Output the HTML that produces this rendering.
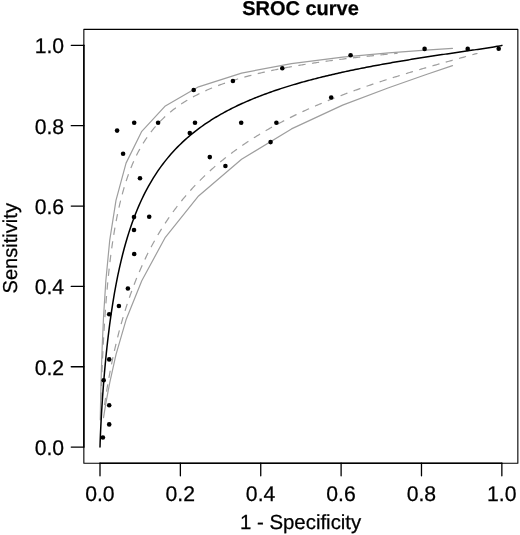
<!DOCTYPE html>
<html><head><meta charset="utf-8"><title>SROC curve</title>
<style>html,body{margin:0;padding:0;background:#fff;}body{width:520px;height:535px;position:relative;overflow:hidden;font-family:"Liberation Sans",Arial,sans-serif;}</style>
</head><body>
<svg width="520" height="535" viewBox="0 0 520 535" style="position:absolute;left:0;top:0">
<rect x="0" y="0" width="520" height="535" fill="#fff"/>
<g fill="none" stroke="#9e9e9e" stroke-width="1.2" stroke-linejoin="round" stroke-linecap="round">
<path d="M100.27,419.84 L100.45,409.02 L100.76,394.23 L101.26,374.45 L102.11,348.87 L103.52,317.27 L105.86,280.44 L109.70,240.44 L115.98,200.29 L126.05,163.14 L141.78,131.35 L165.34,105.96 L198.56,86.85 L241.57,73.10 L291.49,63.57 L342.61,57.13 L388.65,52.88 L425.56,50.11 L452.50,48.33"/>
<path d="M103.52,417.62 L105.86,403.20 L109.70,382.94 L115.98,354.56 L126.05,319.82 L141.78,280.68 L165.34,237.29 L198.56,195.94 L241.57,159.30 L291.49,128.89 L342.61,105.16 L388.65,87.78 L425.56,74.73 L452.50,65.69"/>
</g>
<g fill="none" stroke="#9e9e9e" stroke-width="1.2" stroke-linejoin="round" stroke-dasharray="7.3 6.5">
<path d="M100.77,406.80 L100.80,405.69 L100.83,404.68 L100.86,403.66 L100.89,402.61 L100.92,401.54 L100.95,400.45 L100.98,399.33 L101.02,398.19 L101.06,397.02 L101.09,396.00 L101.12,394.96 L101.16,393.91 L101.19,392.83 L101.23,391.74 L101.26,390.62 L101.30,389.49 L101.34,388.33 L101.38,387.16 L101.42,385.97 L101.46,384.96 L101.50,383.93 L101.53,382.89 L101.57,381.84 L101.61,380.77 L101.65,379.69 L101.70,378.59 L101.74,377.48 L101.78,376.35 L101.83,375.21 L101.87,374.05 L101.92,372.88 L101.97,371.69 L102.02,370.49 L102.07,369.27 L102.12,368.03 L102.17,366.78 L102.22,365.77 L102.26,364.75 L102.31,363.72 L102.35,362.68 L102.40,361.63 L102.45,360.57 L102.50,359.50 L102.55,358.41 L102.60,357.32 L102.65,356.22 L102.71,355.11 L102.76,353.99 L102.82,352.86 L102.87,351.71 L102.93,350.56 L102.99,349.40 L103.05,348.23 L103.11,347.05 L103.17,345.85 L103.24,344.65 L103.30,343.44 L103.37,342.22 L103.43,340.99 L103.50,339.74 L103.57,338.49 L103.65,337.23 L103.72,335.96 L103.79,334.68 L103.87,333.39 L103.95,332.09 L104.02,330.78 L104.11,329.46 L104.19,328.13 L104.25,327.13 L104.31,326.12 L104.38,325.11 L104.44,324.09 L104.51,323.07 L104.58,322.04 L104.65,321.01 L104.72,319.97 L104.79,318.92 L104.86,317.88 L104.93,316.82 L105.00,315.77 L105.08,314.70 L105.15,313.64 L105.23,312.56 L105.31,311.49 L105.39,310.40 L105.47,309.32 L105.55,308.23 L105.63,307.13 L105.72,306.03 L105.80,304.93 L105.89,303.82 L105.98,302.71 L106.06,301.59 L106.15,300.47 L106.25,299.35 L106.34,298.22 L106.43,297.09 L106.53,295.95 L106.63,294.81 L106.73,293.67 L106.83,292.52 L106.93,291.37 L107.03,290.21 L107.13,289.05 L107.24,287.89 L107.35,286.73 L107.46,285.56 L107.57,284.39 L107.68,283.21 L107.79,282.03 L107.91,280.85 L108.03,279.67 L108.14,278.48 L108.26,277.29 L108.39,276.10 L108.51,274.90 L108.64,273.71 L108.76,272.51 L108.89,271.31 L109.03,270.10 L109.16,268.89 L109.29,267.69 L109.43,266.48 L109.57,265.26 L109.71,264.05 L109.86,262.83 L110.00,261.61 L110.15,260.39 L110.30,259.17 L110.45,257.95 L110.60,256.73 L110.76,255.50 L110.92,254.28 L111.08,253.05 L111.24,251.82 L111.41,250.59 L111.57,249.36 L111.74,248.13 L111.92,246.90 L112.09,245.67 L112.27,244.44 L112.45,243.21 L112.63,241.97 L112.81,240.74 L113.00,239.51 L113.19,238.27 L113.38,237.04 L113.58,235.81 L113.78,234.58 L113.98,233.35 L114.18,232.12 L114.39,230.89 L114.60,229.66 L114.81,228.43 L115.03,227.20 L115.25,225.97 L115.47,224.75 L115.69,223.52 L115.92,222.30 L116.15,221.08 L116.39,219.86 L116.62,218.64 L116.86,217.42 L117.11,216.20 L117.36,214.99 L117.61,213.78 L117.86,212.57 L118.12,211.36 L118.38,210.15 L118.64,208.95 L118.91,207.75 L119.19,206.55 L119.46,205.35 L119.74,204.16 L120.02,202.97 L120.31,201.78 L120.60,200.59 L120.90,199.41 L121.20,198.23 L121.50,197.06 L121.81,195.88 L122.12,194.71 L122.44,193.54 L122.76,192.38 L123.08,191.22 L123.41,190.06 L123.74,188.91 L124.08,187.76 L124.42,186.62 L124.77,185.48 L125.12,184.34 L125.47,183.20 L125.84,182.07 L126.20,180.95 L126.57,179.83 L126.94,178.71 L127.32,177.60 L127.71,176.49 L128.10,175.38 L128.49,174.28 L128.89,173.19 L129.30,172.10 L129.71,171.01 L130.12,169.93 L130.54,168.86 L130.97,167.78 L131.40,166.72 L131.84,165.66 L132.28,164.60 L132.73,163.55 L133.18,162.50 L133.64,161.46 L134.11,160.42 L134.58,159.39 L135.06,158.36 L135.54,157.34 L136.03,156.33 L136.53,155.32 L137.03,154.31 L137.53,153.31 L138.05,152.32 L138.57,151.33 L139.09,150.35 L139.63,149.37 L140.17,148.40 L140.71,147.43 L141.26,146.47 L141.82,145.52 L142.39,144.57 L142.96,143.62 L143.54,142.69 L144.13,141.75 L144.72,140.83 L145.32,139.91 L145.93,138.99 L146.54,138.09 L147.16,137.18 L147.79,136.29 L148.42,135.39 L149.07,134.51 L149.72,133.63 L150.37,132.76 L151.04,131.89 L151.71,131.03 L152.39,130.17 L153.08,129.32 L153.77,128.48 L154.48,127.64 L155.19,126.81 L155.91,125.99 L156.63,125.17 L157.37,124.35 L158.11,123.55 L158.86,122.75 L159.62,121.95 L160.38,121.16 L161.16,120.38 L161.94,119.60 L162.73,118.83 L163.53,118.06 L164.33,117.30 L165.15,116.55 L165.97,115.80 L166.80,115.06 L167.64,114.32 L168.49,113.59 L169.35,112.87 L170.21,112.15 L171.09,111.44 L171.97,110.73 L172.86,110.03 L173.76,109.34 L174.67,108.65 L175.58,107.97 L176.51,107.29 L177.44,106.62 L178.38,105.95 L179.34,105.29 L180.29,104.64 L181.26,103.99 L182.24,103.35 L183.23,102.71 L184.22,102.08 L185.22,101.45 L186.24,100.83 L187.26,100.22 L188.29,99.61 L189.32,99.00 L190.37,98.40 L191.43,97.81 L192.49,97.22 L193.56,96.64 L194.64,96.07 L195.73,95.49 L196.83,94.93 L197.94,94.37 L199.06,93.81 L200.18,93.26 L201.31,92.72 L202.45,92.18 L203.60,91.64 L204.76,91.11 L205.93,90.59 L207.10,90.07 L208.28,89.56 L209.48,89.05 L210.68,88.54 L211.88,88.04 L213.10,87.55 L214.32,87.06 L215.55,86.57 L216.79,86.09 L218.04,85.62 L219.29,85.15 L220.56,84.68 L221.83,84.22 L223.10,83.77 L224.39,83.32 L225.68,82.87 L226.98,82.43 L228.29,81.99 L229.60,81.56 L230.92,81.13 L232.25,80.70 L233.59,80.28 L234.93,79.87 L236.27,79.46 L237.63,79.05 L238.99,78.65 L240.36,78.25 L241.73,77.85 L243.11,77.46 L244.50,77.08 L245.89,76.70 L247.29,76.32 L248.69,75.94 L250.10,75.58 L251.51,75.21 L252.93,74.85 L254.35,74.49 L255.78,74.14 L257.22,73.79 L258.65,73.44 L260.10,73.10 L261.54,72.76 L263.00,72.42 L264.45,72.09 L265.91,71.77 L267.37,71.44 L268.35,71.23 L269.33,71.01 L270.31,70.80 L271.30,70.59 L272.28,70.39 L273.26,70.18 L274.25,69.98 L275.24,69.77 L276.23,69.57 L277.22,69.37 L278.21,69.17 L279.20,68.98 L280.20,68.78 L281.19,68.59 L282.19,68.39 L283.18,68.20 L284.18,68.01 L285.18,67.82 L286.18,67.64 L287.18,67.45 L288.18,67.27 L289.18,67.09 L290.18,66.90 L291.18,66.72 L292.19,66.55 L293.19,66.37 L294.19,66.19 L295.20,66.02 L296.20,65.85 L297.21,65.67 L298.21,65.50 L299.22,65.34 L300.22,65.17 L301.23,65.00 L302.23,64.84 L303.24,64.67 L304.24,64.51 L305.25,64.35 L306.25,64.19 L307.25,64.03 L308.26,63.87 L309.26,63.71 L310.26,63.56 L311.27,63.41 L312.27,63.25 L313.27,63.10 L314.27,62.95 L315.27,62.80 L316.27,62.65 L317.27,62.51 L318.27,62.36 L319.26,62.22 L320.26,62.07 L321.26,61.93 L322.25,61.79 L323.24,61.65 L324.24,61.51 L325.23,61.37 L326.71,61.17 L328.19,60.97 L329.67,60.77 L331.14,60.57 L332.62,60.37 L334.08,60.18 L335.55,59.99 L337.01,59.80 L338.47,59.62 L339.92,59.43 L341.37,59.25 L342.81,59.07 L344.25,58.90 L345.69,58.72 L347.12,58.55 L348.54,58.38 L349.96,58.21 L351.38,58.04 L352.79,57.88 L354.19,57.72 L355.59,57.56 L356.98,57.40 L358.37,57.24 L359.75,57.09 L361.13,56.93 L362.50,56.78 L363.86,56.63 L365.21,56.49 L366.56,56.34 L367.91,56.20 L369.24,56.06 L370.57,55.92 L371.90,55.78 L373.21,55.64 L374.52,55.51 L375.82,55.37 L377.12,55.24 L378.40,55.11 L379.68,54.98 L380.96,54.86 L382.22,54.73 L383.48,54.61 L384.73,54.49 L385.97,54.37 L387.20,54.25 L388.43,54.13 L389.64,54.01 L390.85,53.90 L392.05,53.79 L393.25,53.67 L394.43,53.56 L395.61,53.46 L396.78,53.35 L397.55,53.28" stroke-dashoffset="6.8"/>
<path d="M104.27,406.86 L104.42,405.78 L104.58,404.68 L104.74,403.55 L104.91,402.40 L105.05,401.39 L105.20,400.36 L105.36,399.31 L105.52,398.24 L105.69,397.15 L105.86,396.04 L106.03,394.91 L106.22,393.75 L106.40,392.58 L106.56,391.58 L106.73,390.57 L106.89,389.54 L107.06,388.50 L107.24,387.44 L107.42,386.37 L107.60,385.28 L107.79,384.18 L107.99,383.06 L108.18,381.92 L108.39,380.76 L108.60,379.59 L108.81,378.41 L109.03,377.21 L109.25,375.99 L109.43,375.00 L109.62,374.00 L109.81,372.99 L110.00,371.97 L110.20,370.94 L110.40,369.90 L110.60,368.85 L110.81,367.79 L111.02,366.71 L111.24,365.63 L111.46,364.53 L111.69,363.43 L111.92,362.31 L112.15,361.18 L112.39,360.04 L112.63,358.89 L112.88,357.73 L113.13,356.56 L113.38,355.38 L113.65,354.18 L113.91,352.98 L114.18,351.76 L114.46,350.54 L114.74,349.30 L115.03,348.06 L115.32,346.80 L115.62,345.53 L115.92,344.25 L116.23,342.96 L116.46,341.99 L116.70,341.01 L116.94,340.02 L117.19,339.03 L117.44,338.03 L117.69,337.03 L117.95,336.02 L118.21,335.01 L118.47,333.99 L118.73,332.96 L119.00,331.93 L119.28,330.89 L119.55,329.85 L119.84,328.80 L120.12,327.75 L120.41,326.69 L120.70,325.63 L121.00,324.56 L121.30,323.48 L121.60,322.40 L121.91,321.32 L122.23,320.23 L122.54,319.13 L122.86,318.03 L123.19,316.93 L123.52,315.82 L123.85,314.70 L124.19,313.59 L124.54,312.46 L124.88,311.33 L125.24,310.20 L125.59,309.06 L125.96,307.92 L126.32,306.77 L126.69,305.62 L127.07,304.46 L127.45,303.30 L127.84,302.14 L128.23,300.97 L128.63,299.80 L129.03,298.62 L129.43,297.44 L129.85,296.26 L130.26,295.07 L130.69,293.88 L131.11,292.69 L131.55,291.49 L131.99,290.29 L132.43,289.08 L132.88,287.87 L133.34,286.66 L133.80,285.45 L134.27,284.23 L134.74,283.01 L135.22,281.79 L135.70,280.56 L136.19,279.33 L136.69,278.10 L137.20,276.87 L137.71,275.63 L138.22,274.39 L138.74,273.15 L139.27,271.91 L139.81,270.67 L140.35,269.42 L140.90,268.17 L141.45,266.92 L142.01,265.67 L142.58,264.42 L143.15,263.16 L143.74,261.91 L144.32,260.65 L144.92,259.39 L145.52,258.13 L146.13,256.87 L146.75,255.61 L147.37,254.35 L148.00,253.09 L148.64,251.82 L149.28,250.56 L149.94,249.30 L150.60,248.03 L151.26,246.77 L151.94,245.50 L152.62,244.24 L153.31,242.98 L154.01,241.71 L154.71,240.45 L155.43,239.19 L156.15,237.92 L156.88,236.66 L157.61,235.40 L158.36,234.14 L159.11,232.88 L159.87,231.62 L160.64,230.37 L161.41,229.11 L162.20,227.86 L162.99,226.61 L163.79,225.35 L164.60,224.10 L165.42,222.86 L166.25,221.61 L167.08,220.37 L167.64,219.54 L168.21,218.71 L168.78,217.88 L169.35,217.06 L169.92,216.23 L170.50,215.41 L171.09,214.59 L171.67,213.77 L172.26,212.95 L172.86,212.13 L173.46,211.31 L174.06,210.49 L174.67,209.68 L175.28,208.86 L175.89,208.05 L176.51,207.24 L177.13,206.43 L177.75,205.62 L178.38,204.81 L179.02,204.01 L179.65,203.20 L180.29,202.40 L180.94,201.60 L181.59,200.80 L182.24,200.00 L182.90,199.20 L183.56,198.40 L184.22,197.61 L184.89,196.82 L185.56,196.03 L186.24,195.24 L186.92,194.45 L187.60,193.66 L188.29,192.88 L188.98,192.10 L189.67,191.32 L190.37,190.54 L191.07,189.76 L191.78,188.98 L192.49,188.21 L193.20,187.44 L193.92,186.67 L194.64,185.90 L195.37,185.14 L196.10,184.37 L196.83,183.61 L197.57,182.85 L198.31,182.09 L199.06,181.34 L199.80,180.58 L200.56,179.83 L201.31,179.08 L202.07,178.33 L202.84,177.59 L203.60,176.85 L204.37,176.10 L205.15,175.37 L205.93,174.63 L206.71,173.89 L207.50,173.16 L208.28,172.43 L209.08,171.70 L209.87,170.98 L210.68,170.25 L211.48,169.53 L212.29,168.81 L213.10,168.10 L213.91,167.38 L214.73,166.67 L215.55,165.96 L216.38,165.26 L217.21,164.55 L218.04,163.85 L218.87,163.15 L219.71,162.45 L220.56,161.76 L221.40,161.06 L222.25,160.37 L223.10,159.69 L223.96,159.00 L224.82,158.32 L225.68,157.64 L226.55,156.96 L227.42,156.29 L228.29,155.61 L229.16,154.94 L230.04,154.28 L230.92,153.61 L231.81,152.95 L232.69,152.29 L233.59,151.63 L234.48,150.98 L235.38,150.33 L236.27,149.68 L237.18,149.03 L238.08,148.39 L238.99,147.74 L239.90,147.11 L240.82,146.47 L241.73,145.84 L242.65,145.20 L243.57,144.58 L244.50,143.95 L245.42,143.33 L246.35,142.71 L247.29,142.09 L248.22,141.47 L249.16,140.86 L250.10,140.25 L251.04,139.65 L251.98,139.04 L252.93,138.44 L253.88,137.84 L254.83,137.25 L255.78,136.65 L256.74,136.06 L257.69,135.47 L258.65,134.89 L259.62,134.31 L260.58,133.73 L261.54,133.15 L262.51,132.57 L263.48,132.00 L264.45,131.43 L265.42,130.87 L266.40,130.30 L267.37,129.74 L268.35,129.19 L269.33,128.63 L270.31,128.08 L271.30,127.53 L272.28,126.98 L273.26,126.44 L274.25,125.89 L275.24,125.36 L276.23,124.82 L277.22,124.29 L278.21,123.76 L279.20,123.23 L280.20,122.70 L281.19,122.18 L282.19,121.66 L283.18,121.14 L284.18,120.63 L285.18,120.11 L286.18,119.61 L287.18,119.10 L288.18,118.60 L289.18,118.09 L290.18,117.60 L291.18,117.10 L292.19,116.61 L293.19,116.12 L294.19,115.63 L295.20,115.14 L296.20,114.66 L297.21,114.18 L298.21,113.70 L299.22,113.23 L300.22,112.76 L301.23,112.29 L302.23,111.82 L303.24,111.36 L304.24,110.89 L305.25,110.44 L306.25,109.98 L307.25,109.53 L308.26,109.07 L309.26,108.63 L310.26,108.18 L311.27,107.74 L312.27,107.30 L313.27,106.86 L314.27,106.42 L315.27,105.99 L316.27,105.56 L317.27,105.13 L318.27,104.70 L319.26,104.28 L320.26,103.86 L321.26,103.44 L322.25,103.03 L323.24,102.61 L324.24,102.20 L325.23,101.79 L326.22,101.39 L327.20,100.98 L328.19,100.58 L329.18,100.18 L330.16,99.79 L331.14,99.39 L332.13,99.00 L333.11,98.61 L334.08,98.23 L335.06,97.84 L336.04,97.46 L337.01,97.08 L337.98,96.71 L338.95,96.33 L339.92,95.96 L340.89,95.59 L341.85,95.22 L342.81,94.86 L343.77,94.49 L344.73,94.13 L345.69,93.77 L346.64,93.42 L347.59,93.06 L348.54,92.71 L349.49,92.36 L350.43,92.02 L351.38,91.67 L352.32,91.33 L353.72,90.82 L355.12,90.31 L356.52,89.81 L357.91,89.32 L359.29,88.83 L360.67,88.34 L362.04,87.86 L363.40,87.38 L364.76,86.91 L366.12,86.45 L367.46,85.98 L368.80,85.53 L370.13,85.07 L371.46,84.63 L372.77,84.18 L374.09,83.74 L375.39,83.31 L376.69,82.88 L377.98,82.45 L379.26,82.03 L380.53,81.61 L381.80,81.20 L383.06,80.79 L384.31,80.39 L385.55,79.99 L386.79,79.59 L388.02,79.20 L389.24,78.81 L390.45,78.42 L391.66,78.04 L392.85,77.67 L394.04,77.30 L395.22,76.93 L396.39,76.56 L397.55,76.20 L398.71,75.85 L399.85,75.49 L400.99,75.15 L402.12,74.80 L403.24,74.46 L404.35,74.12 L405.46,73.79 L406.55,73.46 L407.64,73.13 L408.72,72.80 L409.79,72.48 L410.85,72.17 L411.90,71.85 L412.94,71.54 L413.98,71.24 L415.00,70.93 L416.02,70.63 L417.03,70.34 L418.03,70.04 L419.02,69.75 L420.00,69.47 L420.98,69.18 L421.94,68.90 L423.21,68.53 L424.47,68.17 L425.71,67.81 L426.94,67.46 L428.15,67.11 L429.35,66.77 L430.53,66.43 L431.70,66.10 L432.85,65.77 L433.98,65.45 L435.10,65.13 L436.21,64.82 L437.30,64.51 L438.38,64.20 L439.44,63.90 L440.49,63.61 L441.52,63.32 L442.54,63.03 L443.54,62.75 L444.53,62.47 L445.51,62.20 L446.71,61.87 L447.89,61.54 L449.05,61.21 L450.18,60.90 L451.30,60.59 L452.39,60.28 L453.47,59.98 L454.52,59.69 L455.56,59.40 L456.57,59.12 L457.57,58.85 L458.54,58.57 L459.69,58.26 L460.81,57.95 L461.90,57.64 L462.97,57.35 L464.01,57.06 L465.02,56.77 L466.02,56.50 L466.98,56.23 L468.08,55.92 L469.15,55.62 L470.19,55.33 L471.19,55.05 L472.17,54.78 L473.25,54.47 L474.30,54.18 L475.30,53.89 L476.28,53.62 L477.34,53.32 L477.45,53.28" stroke-dashoffset="-1.7"/>
</g>
<path d="M100.00,447.10 L100.14,442.32 L100.27,438.62 L100.41,435.29 L100.54,432.18 L100.68,429.24 L100.82,426.44 L100.95,423.74 L101.09,421.15 L101.23,418.64 L101.36,416.20 L101.50,413.83 L101.63,411.53 L101.77,409.28 L101.91,407.09 L102.04,404.94 L102.18,402.84 L102.32,400.79 L102.45,398.78 L102.59,396.80 L102.72,394.87 L102.86,392.96 L103.00,391.10 L103.13,389.26 L103.27,387.46 L103.41,385.68 L103.54,383.94 L103.68,382.22 L103.81,380.52 L103.95,378.86 L104.09,377.21 L104.22,375.59 L104.36,374.00 L104.50,372.42 L104.63,370.87 L104.77,369.34 L104.90,367.83 L105.04,366.34 L105.18,364.87 L105.31,363.41 L105.45,361.98 L105.59,360.56 L105.72,359.16 L105.86,357.78 L105.99,356.41 L106.13,355.06 L106.27,353.73 L106.40,352.41 L106.54,351.10 L106.67,349.81 L106.81,348.53 L106.95,347.27 L107.08,346.02 L107.22,344.79 L107.36,343.56 L107.49,342.35 L107.63,341.16 L107.76,339.97 L107.90,338.80 L108.04,337.64 L109.65,324.70 L111.27,313.08 L112.88,302.55 L114.49,292.93 L116.11,284.10 L117.72,275.94 L119.34,268.37 L120.95,261.32 L122.56,254.73 L124.18,248.56 L125.79,242.75 L127.41,237.28 L129.02,232.11 L130.63,227.22 L132.25,222.58 L133.86,218.17 L135.48,213.97 L137.09,209.97 L138.71,206.16 L140.32,202.50 L141.93,199.01 L143.55,195.66 L145.16,192.45 L146.78,189.36 L148.39,186.39 L150.00,183.53 L151.62,180.78 L153.23,178.13 L154.85,175.57 L156.46,173.09 L158.07,170.70 L159.69,168.39 L161.30,166.15 L162.92,163.99 L164.53,161.89 L166.15,159.85 L167.76,157.87 L169.37,155.96 L170.99,154.09 L172.60,152.28 L174.22,150.52 L175.83,148.81 L177.44,147.14 L179.06,145.51 L180.67,143.93 L182.29,142.39 L183.90,140.88 L185.52,139.42 L187.13,137.99 L188.74,136.59 L190.36,135.22 L191.97,133.89 L193.59,132.59 L195.20,131.31 L196.81,130.07 L198.43,128.85 L200.04,127.66 L201.66,126.49 L203.27,125.35 L204.88,124.23 L206.50,123.13 L208.11,122.06 L209.73,121.01 L211.34,119.98 L212.96,118.96 L214.57,117.97 L216.18,117.00 L217.80,116.04 L219.41,115.10 L221.03,114.18 L222.64,113.28 L224.25,112.39 L225.87,111.51 L227.48,110.65 L229.10,109.81 L230.71,108.98 L232.32,108.17 L233.94,107.37 L235.55,106.58 L237.17,105.80 L238.78,105.04 L240.40,104.29 L242.01,103.55 L243.62,102.82 L245.24,102.10 L246.85,101.40 L248.47,100.70 L250.08,100.01 L251.69,99.34 L253.31,98.67 L254.92,98.02 L256.54,97.37 L258.15,96.74 L259.76,96.11 L261.38,95.49 L262.99,94.88 L264.61,94.27 L266.22,93.68 L267.84,93.09 L269.45,92.51 L271.06,91.94 L272.68,91.38 L274.29,90.82 L275.91,90.27 L277.52,89.73 L279.13,89.19 L280.75,88.66 L282.36,88.14 L283.98,87.62 L285.59,87.11 L287.20,86.61 L288.82,86.11 L290.43,85.62 L292.05,85.13 L293.66,84.65 L295.28,84.18 L296.89,83.71 L298.50,83.24 L300.12,82.78 L301.73,82.33 L303.35,81.88 L304.96,81.43 L306.57,80.99 L308.19,80.55 L309.80,80.12 L311.42,79.70 L313.03,79.27 L314.65,78.86 L316.26,78.44 L317.87,78.03 L319.49,77.63 L321.10,77.23 L322.72,76.83 L324.33,76.43 L325.94,76.04 L327.56,75.66 L329.17,75.28 L330.79,74.90 L332.40,74.52 L334.01,74.15 L335.63,73.78 L337.24,73.41 L338.86,73.05 L340.47,72.69 L342.09,72.34 L343.70,71.99 L345.31,71.64 L346.93,71.29 L348.54,70.95 L350.16,70.60 L351.77,70.27 L353.38,69.93 L355.00,69.60 L356.61,69.27 L358.23,68.94 L359.84,68.62 L361.45,68.30 L363.07,67.98 L364.68,67.66 L366.30,67.35 L367.91,67.03 L369.53,66.72 L371.14,66.42 L372.75,66.11 L374.37,65.81 L375.98,65.51 L377.60,65.21 L379.21,64.91 L380.82,64.62 L382.44,64.32 L384.05,64.03 L385.67,63.74 L387.28,63.46 L388.89,63.17 L390.51,62.89 L392.12,62.61 L393.74,62.33 L395.35,62.05 L396.97,61.77 L398.58,61.50 L400.19,61.23 L401.81,60.96 L403.42,60.69 L405.04,60.42 L406.65,60.15 L408.26,59.89 L409.88,59.62 L411.49,59.36 L413.11,59.10 L414.72,58.84 L416.33,58.58 L417.95,58.33 L419.56,58.07 L421.18,57.82 L422.79,57.56 L424.41,57.31 L426.02,57.06 L427.63,56.81 L429.25,56.56 L430.86,56.32 L432.48,56.07 L434.09,55.82 L435.70,55.58 L437.32,55.34 L438.93,55.09 L440.55,54.85 L442.16,54.61 L443.78,54.37 L445.39,54.13 L447.00,53.89 L448.62,53.65 L450.23,53.41 L451.85,53.17 L453.46,52.94 L455.07,52.70 L456.69,52.46 L458.30,52.23 L459.92,51.99 L461.53,51.76 L463.14,51.52 L464.76,51.29 L466.37,51.05 L467.99,50.82 L469.60,50.58 L471.22,50.35 L472.83,50.11 L474.44,49.87 L476.06,49.63 L477.67,49.40 L479.29,49.16 L480.90,48.92 L482.51,48.68 L484.13,48.43 L485.74,48.19 L487.36,47.94 L488.97,47.69 L490.58,47.43 L492.20,47.17 L493.81,46.91 L494.92,46.73 L496.03,46.54 L497.14,46.34 L498.25,46.14 L499.36,45.93 L500.46,45.70 L501.57,45.44 L501.85,45.35" fill="none" stroke="#000" stroke-width="1.5" stroke-linejoin="round" stroke-linecap="round"/>
<g fill="#000">
<circle cx="117.1" cy="130.6" r="2.3"/>
<circle cx="123.1" cy="153.7" r="2.3"/>
<circle cx="134.2" cy="122.7" r="2.3"/>
<circle cx="158.1" cy="122.7" r="2.3"/>
<circle cx="193.7" cy="90.0" r="2.3"/>
<circle cx="195.0" cy="122.7" r="2.3"/>
<circle cx="189.8" cy="133.1" r="2.3"/>
<circle cx="232.9" cy="81.0" r="2.3"/>
<circle cx="241.2" cy="122.7" r="2.3"/>
<circle cx="209.8" cy="157.1" r="2.3"/>
<circle cx="225.4" cy="166.0" r="2.3"/>
<circle cx="140.0" cy="178.3" r="2.3"/>
<circle cx="134.0" cy="217.1" r="2.3"/>
<circle cx="149.2" cy="216.7" r="2.3"/>
<circle cx="134.0" cy="230.0" r="2.3"/>
<circle cx="134.2" cy="254.0" r="2.3"/>
<circle cx="282.3" cy="68.3" r="2.3"/>
<circle cx="350.6" cy="55.2" r="2.3"/>
<circle cx="424.6" cy="48.9" r="2.3"/>
<circle cx="467.7" cy="48.9" r="2.3"/>
<circle cx="498.7" cy="48.7" r="2.3"/>
<circle cx="331.2" cy="97.5" r="2.3"/>
<circle cx="276.4" cy="122.7" r="2.3"/>
<circle cx="270.6" cy="142.1" r="2.3"/>
<circle cx="127.9" cy="288.5" r="2.3"/>
<circle cx="118.9" cy="306.0" r="2.3"/>
<circle cx="109.2" cy="314.2" r="2.3"/>
<circle cx="109.2" cy="359.4" r="2.3"/>
<circle cx="103.7" cy="380.2" r="2.3"/>
<circle cx="109.2" cy="405.2" r="2.3"/>
<circle cx="109.2" cy="424.4" r="2.3"/>
<circle cx="102.9" cy="437.5" r="2.3"/>
</g>
<g fill="none" stroke="#000" stroke-linecap="round" stroke-linejoin="round">
<rect x="83.85" y="29.35" width="434.00" height="433.90" stroke-width="1.1"/>
<path d="M100.0,463.25 H501.85" stroke-width="1.5"/>
<path d="M83.85,447.1 V45.35" stroke-width="1.5"/>
<path d="M100.00,463.25 V475.75" stroke-width="1.3"/>
<path d="M83.85,447.10 H71.25" stroke-width="1.3"/>
<path d="M180.37,463.25 V475.75" stroke-width="1.3"/>
<path d="M83.85,366.75 H71.25" stroke-width="1.3"/>
<path d="M260.74,463.25 V475.75" stroke-width="1.3"/>
<path d="M83.85,286.40 H71.25" stroke-width="1.3"/>
<path d="M341.11,463.25 V475.75" stroke-width="1.3"/>
<path d="M83.85,206.05 H71.25" stroke-width="1.3"/>
<path d="M421.48,463.25 V475.75" stroke-width="1.3"/>
<path d="M83.85,125.70 H71.25" stroke-width="1.3"/>
<path d="M501.85,463.25 V475.75" stroke-width="1.3"/>
<path d="M83.85,45.35 H71.25" stroke-width="1.3"/>
</g>
<g text-rendering="geometricPrecision" font-family="'Liberation Sans', Arial, sans-serif" fill="#000" stroke="#000" stroke-width="0.25">
<text x="300.5" y="15.3" font-size="20" font-weight="bold" text-anchor="middle">SROC curve</text>
<text x="99.9" y="500.9" font-size="21.2" text-anchor="middle">0.0</text>
<text x="64.1" y="455.0" font-size="21.2" text-anchor="end">0.0</text>
<text x="180.3" y="500.9" font-size="21.2" text-anchor="middle">0.2</text>
<text x="64.1" y="374.6" font-size="21.2" text-anchor="end">0.2</text>
<text x="260.6" y="500.9" font-size="21.2" text-anchor="middle">0.4</text>
<text x="64.1" y="294.3" font-size="21.2" text-anchor="end">0.4</text>
<text x="341.0" y="500.9" font-size="21.2" text-anchor="middle">0.6</text>
<text x="64.1" y="214.0" font-size="21.2" text-anchor="end">0.6</text>
<text x="421.4" y="500.9" font-size="21.2" text-anchor="middle">0.8</text>
<text x="64.1" y="133.6" font-size="21.2" text-anchor="end">0.8</text>
<text x="501.8" y="500.9" font-size="21.2" text-anchor="middle">1.0</text>
<text x="64.1" y="53.3" font-size="21.2" text-anchor="end">1.0</text>
<text x="300.6" y="528.7" font-size="20.4" text-anchor="middle">1 - Specificity</text>
<text transform="translate(16.8,248.3) rotate(-90)" font-size="20.1" text-anchor="middle">Sensitivity</text>
</g>
</svg>
</body></html>
